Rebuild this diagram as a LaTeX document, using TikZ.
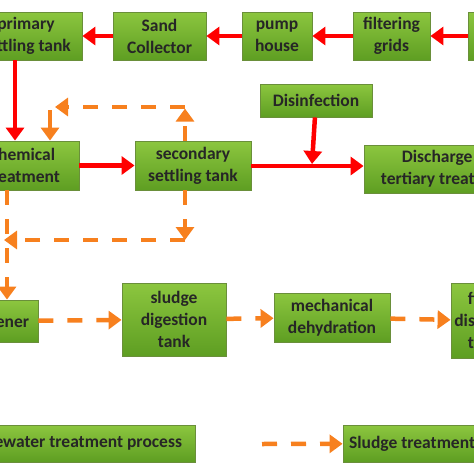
\documentclass[tikz,border=0pt]{standalone}
\usepackage{fontspec}
\setmainfont{Carlito}
\usetikzlibrary{positioning}
\usetikzlibrary{arrows.meta}

\definecolor{boxtop}{HTML}{8CC63F}
\definecolor{boxbot}{HTML}{5E9E22}
\definecolor{boxline}{HTML}{6A8F3A}
\definecolor{sludgeorange}{HTML}{F7801E}

\begin{document}
\begin{tikzpicture}[
  x=1pt, y=-1pt,
  box/.style={draw=boxline, line width=0.8pt, top color=boxtop, bottom color=boxbot, align=center, text=black!85, font=\bfseries\fontsize{17.5}{22}\selectfont, inner sep=1pt},
  flow/.style={draw=red, line width=4.5pt, -{Triangle[length=13pt,width=18pt]}},
  sludge/.style={draw=sludgeorange, line width=4.5pt, dash pattern=on 15pt off 14pt, -{Triangle[length=13pt,width=18pt]}}
]
\clip (0,0) rectangle (474,474);
\useasboundingbox (0,0) rectangle (474,474);

\node[box,minimum width=112pt,minimum height=48pt] (primary) at (26,36) {primary\\settling tank};
\node[box,minimum width=93pt,minimum height=48pt] (sand) at (159.5,36) {Sand\\Collector};
\node[box,minimum width=70pt,minimum height=48pt] (pump) at (277,36) {pump\\house};
\node[box,minimum width=77pt,minimum height=48pt] (grids) at (391.5,36) {filtering\\grids};
\node[box,minimum width=72pt,minimum height=48pt] (inlet) at (504,36) {};

\node[box,minimum width=112pt,minimum height=49pt] (chem) at (23,165.5) {chemical\\treatment};
\node[box,minimum width=116pt,minimum height=49pt] (secondary) at (193,165.5) {secondary\\settling tank};
\node[box,minimum width=112pt,minimum height=33pt] (disinf) at (316,100.5) {Disinfection};
\node[box,minimum width=166pt,minimum height=48pt] (discharge) at (447,169) {Discharge or\\tertiary treatment};

\node[box,minimum width=86pt,minimum height=42pt] (thickener) at (-5,321) {thickener};
\node[box,minimum width=104pt,minimum height=73pt] (digestion) at (174,319.5) {sludge\\digestion\\tank};
\node[box,minimum width=116pt,minimum height=49pt] (dehyd) at (332,317.5) {mechanical\\dehydration};
\node[box,minimum width=66pt,minimum height=75pt] (final) at (484,320.5) {final\\disposal\\tank};

\node[box,minimum width=250pt,minimum height=37pt] (lwater) at (70,443.5) {Wastewater treatment process};
\node[box,minimum width=197pt,minimum height=37pt] (lsludge) at (441.5,443.5) {Sludge treatment process};

\coordinate (join) at (312,164);
\coordinate (upper) at (185,107);
\coordinate (lower) at (185,240);

% water line
\draw[flow] (inlet) -- (grids);
\draw[flow] (grids) -- (pump);
\draw[flow] (pump) -- (sand);
\draw[flow] (sand) -- (primary);
\draw[flow] (primary.south -| 15,0) -- (chem.north -| 15,0);
\draw[flow] (chem) -- (secondary);
\draw[flow] (secondary.east |- 0,166) -- (discharge.west |- 0,166);
\draw[flow] (disinf) -- (join);

% sludge line
\draw[sludge] (secondary.north -| upper) -- ++(0,-32);
\draw[sludge] (upper) -- (55,107);
\draw[sludge, dash pattern=on 8pt off 0pt] (50,110) -- (chem.north -| 50,0);
\draw[sludge] (secondary.south -| lower) -- (lower);
\draw[sludge] (lower) -- (4,240);
\draw[sludge] (chem.south -| 7,0) -- (thickener.north -| 7,0);
\draw[sludge] (thickener) -- (digestion);
\draw[sludge] (digestion) -- (dehyd);
\draw[sludge] (dehyd) -- (final);

% legend
\coordinate (ls) at (262,444);
\draw[sludge] (ls) -- (lsludge);
\end{tikzpicture}
\end{document}
